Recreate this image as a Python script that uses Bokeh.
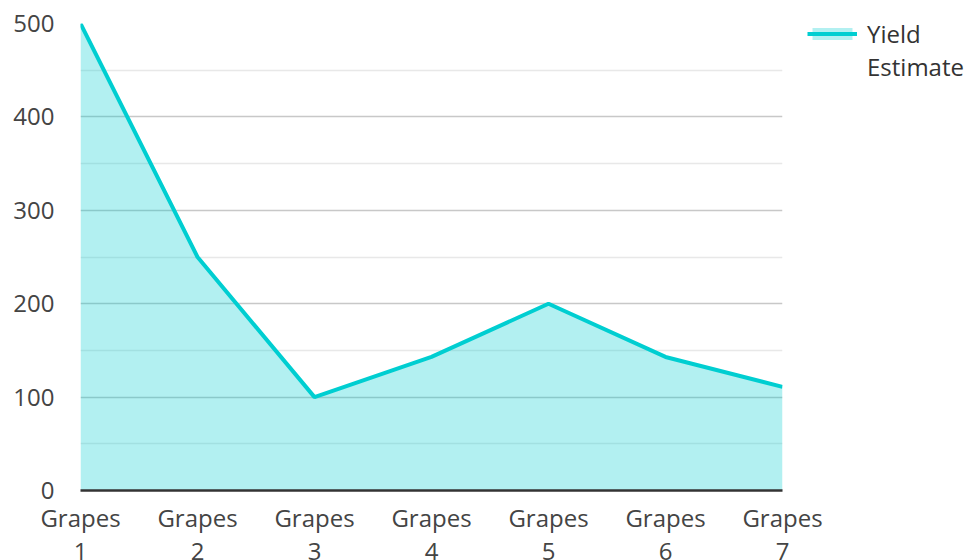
from bokeh.plotting import figure
from bokeh.models import Legend, LegendItem, FixedTicker, Range1d, ColumnDataSource
from bokeh.embed import file_html
from bokeh.resources import INLINE

categories = ["Grapes 1", "Grapes 2", "Grapes 3", "Grapes 4", "Grapes 5", "Grapes 6", "Grapes 7"]
yield_estimate = [500, 250, 100, 143, 200, 143, 111]
y_ticks = [0, 100, 200, 300, 400, 500]
y_minor = [50, 150, 250, 350, 450]
series_label = ["Yield", "Estimate"]

FONT = "Open Sans"
xs = list(range(len(categories)))
src = ColumnDataSource(dict(x=xs, y=yield_estimate, y0=[0] * len(xs)))

p = figure(frame_width=702, frame_height=467, output_backend="svg", toolbar_location=None,
           x_range=Range1d(0, len(categories) - 1), y_range=Range1d(0, 500),
           min_border_left=80, min_border_top=23, min_border_bottom=0, min_border_right=0)
p.outline_line_color = None
p.background_fill_color = "white"
p.border_fill_color = "white"

va = p.varea(x="x", y1="y0", y2="y", source=src, fill_color="#00CED1", fill_alpha=0.3)
ln = p.line(x="x", y="y", source=src, line_color="#00CED1", line_width=4)

p.xaxis.ticker = FixedTicker(ticks=xs)
p.xaxis.major_label_overrides = {i: c.replace(" ", "\n") for i, c in enumerate(categories)}
p.yaxis.ticker = FixedTicker(ticks=y_ticks, minor_ticks=y_minor)

for ax in (p.xaxis[0], p.yaxis[0]):
    ax.major_tick_line_color = None
    ax.minor_tick_line_color = None
    ax.major_label_text_font = FONT
    ax.major_label_text_font_size = "24px"
    ax.major_label_text_color = "#444444"
p.yaxis.axis_line_color = None
p.yaxis.major_label_standoff = 20
p.xaxis.axis_line_color = "#333333"
p.xaxis.axis_line_width = 2.5
p.xaxis.major_label_standoff = 4
p.xaxis.major_label_text_line_height = 1.0

p.xgrid.grid_line_color = None
p.ygrid.grid_line_color = "#c8c8c8"
p.ygrid.grid_line_width = 1.5
p.ygrid.minor_grid_line_color = "#e8e8e8"
p.ygrid.minor_grid_line_width = 1.5

legend = Legend(items=[LegendItem(label=series_label[0], renderers=[va, ln]),
                       LegendItem(label=series_label[1], renderers=[])],
                location=(25, 407), orientation="vertical", spacing=0,
                glyph_width=50, glyph_height=15, label_height=29, margin=0, padding=0,
                label_text_font=FONT, label_text_font_size="24px", label_text_color="#333333",
                label_standoff=10, border_line_color=None, background_fill_alpha=0)
p.add_layout(legend, "right")

open("out.html", "w").write(file_html(p, INLINE))
